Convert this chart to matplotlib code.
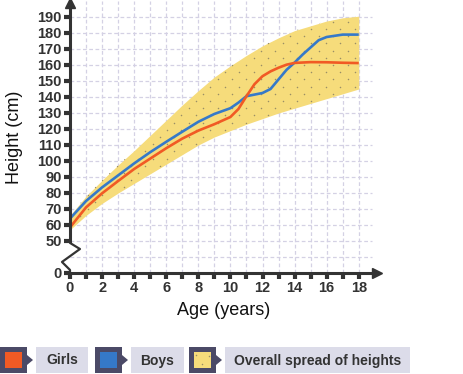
import matplotlib
matplotlib.use("Agg")
import matplotlib.pyplot as plt
import numpy as np
from matplotlib.patches import Rectangle, Polygon

plt.rcParams["font.family"] = ["Liberation Sans", "DejaVu Sans"]

# ── DATA ───────────────────────────────────────────────────
boy_ages = [0, 1, 2, 3, 4, 5, 6, 7, 8, 9, 10, 10.5, 11, 11.5, 12, 12.5,
            13, 13.5, 14, 14.5, 15, 15.5, 16, 17, 18]
boys = [64, 75, 83.5, 91, 98.5, 105.5, 112, 118.3, 124.5, 129.4, 133, 136.5,
        140.5, 141.5, 142.5, 145, 151, 157, 161.5, 166.5, 171, 175.5,
        177.5, 179, 179]

girl_ages = [0, 1, 2, 3, 4, 5, 6, 7, 8, 9, 10, 10.5, 11, 11.5, 12, 12.5,
             13, 13.5, 14, 15, 16, 17, 18]
girls = [58.5, 71, 79.8, 87.5, 95, 101.5, 108, 114, 119, 123, 127.5, 132.5,
         140.5, 148, 153, 156, 158.3, 160.2, 161.3, 161.8, 161.7, 161.4, 161.2]

spread_ages = [0, 1, 2, 3, 4, 5, 6, 7, 8, 9, 10, 11, 12, 13, 14, 15, 16, 17, 18]
spread_low = [57, 66, 73.5, 80, 86, 92, 98, 104, 110, 115, 119, 123,
              126.5, 130, 133, 136, 139, 142, 145]
spread_high = [66, 78, 88, 97.5, 106.5, 116, 125.5, 135, 144, 152.5, 159.5, 166,
               172, 177, 181.5, 184.5, 187.5, 189.5, 190.5]

y_ticks = [30, 50, 60, 70, 80, 90, 100, 110, 120, 130, 140, 150, 160, 170, 180, 190]
y_labels = ["0"] + [str(v) for v in y_ticks[1:]]
x_ticks = list(range(0, 19))
x_labels = [str(v) if v % 2 == 0 else "" for v in x_ticks]

legend_items = ["Girls", "Boys", "Overall spread of heights"]

# ── COLOURS ────────────────────────────────────────────────
GIRL = "#f15a24"
BOY = "#3579c9"
SPREAD = "#f6dc7b"
DOT = "#9a8e66"
AXIS = "#333333"
GRID = "#d4d1e4"
LEG_EDGE = "#4b4a67"
LEG_BG = "#dcdce9"

W, H = 464, 374
fig = plt.figure(figsize=(W / 100, H / 100), dpi=100)
ax = fig.add_axes([70 / W, (H - 273) / H, 308 / W, 272 / H])
ax.set_xlim(0, 19.2)
ax.set_ylim(30, 200)
for s in ax.spines.values():
    s.set_visible(False)

# ── GRID ───────────────────────────────────────────────────
for v in range(40, 200, 10):
    ax.plot([0, 18.8], [v, v], color=GRID, lw=0.9, ls=(0, (3, 2)), zorder=0)
for a in range(1, 19):
    ax.plot([a, a], [30, 200], color=GRID, lw=0.9, ls=(0, (3, 2)), zorder=0)

# ── SPREAD (yellow band + dotted texture) ──────────────────
band = ax.fill_between(spread_ages, spread_low, spread_high, color=SPREAD,
                       lw=0, zorder=1)
gx, gy = np.meshgrid(np.arange(0.2, 18.5, 0.9), np.arange(52, 195, 4.5))
gx = gx + (np.arange(gy.shape[0])[:, None] % 2) * 0.45
dots = ax.scatter(gx.ravel(), gy.ravel(), s=1.2, color=DOT, lw=0, zorder=2)
dots.set_clip_path(band.get_paths()[0], ax.transData)

# ── LINES ──────────────────────────────────────────────────
ax.plot(boy_ages, boys, color=BOY, lw=1.9, solid_joinstyle="round",
        solid_capstyle="butt", zorder=3)
ax.plot(girl_ages, girls, color=GIRL, lw=1.9, solid_joinstyle="round",
        solid_capstyle="butt", zorder=3)

# ── AXES WITH BREAK ────────────────────────────────────────
ax.plot([0, 0], [50, 198], color=AXIS, lw=2.2, clip_on=False, zorder=4)
ax.plot([0, 0, 0.62, -0.5, 0, 0], [50, 48.8, 45, 36.9, 31.9, 30], color=AXIS,
        lw=1.6, clip_on=False, zorder=4)
ax.plot([0, 19], [30, 30], color=AXIS, lw=2.2, clip_on=False, zorder=4)
ax.plot([0], [199], marker="^", ms=7, color=AXIS, clip_on=False, zorder=4)
ax.plot([19.15], [30], marker=">", ms=7, color=AXIS, clip_on=False, zorder=4)

ax.set_yticks(y_ticks)
ax.set_yticklabels(y_labels)
ax.set_xticks(x_ticks)
ax.set_xticklabels(x_labels)
ax.tick_params(axis="both", direction="out", length=4.5, width=3, color=AXIS,
               labelcolor=AXIS, labelsize=10.5, pad=1.5)
for lab in ax.get_xticklabels() + ax.get_yticklabels():
    lab.set_fontweight("bold")

ax.set_xlabel("Age (years)", fontsize=13, color="#111111", labelpad=5)
ax.set_ylabel("Height (cm)", fontsize=13, color="#111111", labelpad=10)

# ── LEGEND (drawn in pixel coords) ─────────────────────────
lg = fig.add_axes([0, 0, 1, 1])
lg.set_xlim(0, W)
lg.set_ylim(H, 0)
lg.axis("off")
swatches = [GIRL, BOY, SPREAD]
starts = [0, 95, 189]
box_w = [52, 53, 185]
for name, col, x0, bw in zip(legend_items, swatches, starts, box_w):
    lg.add_patch(Rectangle((x0, 347), 27, 26, facecolor=LEG_EDGE, lw=0))
    lg.add_patch(Rectangle((x0 + 5, 352), 17.5, 16, facecolor=col, lw=0))
    lg.add_patch(Polygon([[x0 + 27, 355], [x0 + 33, 360], [x0 + 27, 365]],
                         facecolor=LEG_EDGE, lw=0))
    lg.add_patch(Rectangle((x0 + 36, 347), bw, 26, facecolor=LEG_BG, lw=0))
    lg.text(x0 + 36 + bw / 2, 360.5, name, ha="center", va="center",
            fontsize=10, fontweight="bold", color="#333333")
lg.scatter([196, 209, 202], [355, 356, 364], s=1.2, color=DOT, lw=0)

fig.savefig("out.png", dpi=100)
